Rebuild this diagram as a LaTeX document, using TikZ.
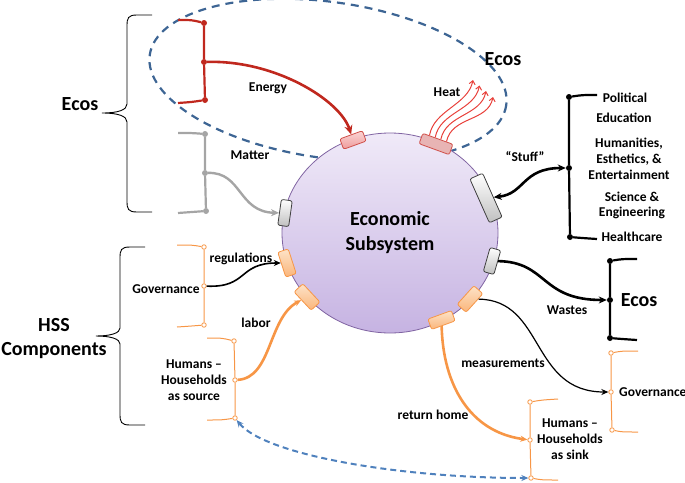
\documentclass[tikz,border=0pt]{standalone}
\usepackage{fontspec}
\setmainfont{Carlito}
\usetikzlibrary{arrows.meta,shapes.geometric}
\definecolor{cred}{HTML}{C0281E}
\definecolor{heatred}{HTML}{E8403A}
\definecolor{cgray}{HTML}{A5A5A5}
\definecolor{cblue}{HTML}{3D6594}
\definecolor{dblue}{HTML}{4F81BD}
\definecolor{corange}{HTML}{F79646}
\definecolor{orlight}{HTML}{FDE3C8}
\definecolor{ordark}{HTML}{FAB57A}
\definecolor{cpurple}{HTML}{8064A2}
\definecolor{circtop}{HTML}{F0EAF8}
\definecolor{circbot}{HTML}{C6B3E2}
\definecolor{pinkl}{HTML}{FBD6D6}
\definecolor{pinkd}{HTML}{EE9A9A}
\definecolor{heatpink}{HTML}{E8B4B4}
\definecolor{crborder}{HTML}{D0504A}
\begin{document}
\begin{tikzpicture}[x=1pt,y=-1pt,
  lbl/.style={font=\bfseries\fontsize{13.5}{16}\selectfont, inner sep=0, align=center},
  big/.style={font=\bfseries\fontsize{20}{24}\selectfont, inner sep=0, align=center},
  fdot/.style={circle, fill=#1, inner sep=0, minimum size=6},
  odot/.style={circle, draw=corange, fill=white, line width=0.8, inner sep=0, minimum size=4.5},
  conn/.style={rectangle, rounded corners=2, inner sep=0, line width=0.8, minimum height=11},
  orconn/.style={conn, draw=corange, top color=orlight, bottom color=ordark},
  grconn/.style={conn, draw=black!75, top color=white, bottom color=black!25},
  brc/.style={line width=0.9, black},
  tip/.style={-{Stealth[length=8pt,width=7pt]}},
  stip/.style={-{Stealth[length=7pt,width=6pt]}},
]
\useasboundingbox (0,0) rectangle (685,482);

% dashed ecosystem ellipse
\draw[cblue, line width=2.2, dash pattern=on 8pt off 6pt, rotate around={-8:(328,80)}] (328,80) ellipse [x radius=180, y radius=78];

% economic subsystem
\node[ellipse, draw=cpurple, line width=0.8, minimum width=216, minimum height=200, top color=circtop, bottom color=circbot, inner sep=0, align=center, font=\bfseries\fontsize{20}{25}\selectfont] (econ) at (390,233) {Economic\\Subsystem};

% connectors
\node[conn, minimum width=24, draw=crborder, top color=pinkl, bottom color=pinkd, rotate=20] (cE) at (353,140) {};
\node[conn, minimum width=32, draw=crborder, fill=heatpink, rotate=-20] (cH) at (436,144) {};
\node[grconn, minimum width=26, rotate=82] (cM) at (285,213) {};
\node[grconn, minimum width=48, minimum height=14, rotate=114] (cS) at (486,198) {};
\node[grconn, minimum width=25, rotate=74] (cW) at (492,261) {};
\node[orconn, minimum width=26, rotate=108] (cRg) at (287,263) {};
\node[orconn, minimum width=25, minimum height=12, rotate=-47] (cL) at (307,297) {};
\node[orconn, minimum width=25, minimum height=12, rotate=48] (cMs) at (470,299) {};
\node[orconn, minimum width=25, rotate=20] (cR) at (441.5,320) {};

% dots
\node[fdot=cred] (rT) at (204,23) {};
\node[fdot=cred] (rE) at (204,62) {};
\node[fdot=cred] (rB) at (205,100) {};
\node[fdot=cgray] (gT) at (205,134) {};
\node[fdot=cgray] (gM) at (205,173) {};
\node[fdot=cgray] (gB) at (206,211) {};
\node[fdot=black] (sT) at (569,97) {};
\node[fdot=black] (sM) at (569,168) {};
\node[fdot=black] (sB) at (570,237) {};
\node[fdot=black] (wT) at (610,261) {};
\node[fdot=black] (wM) at (610,300) {};
\node[fdot=black] (wB) at (610,338) {};
\node[odot] (oT1) at (204,247) {};
\node[odot] (oM1) at (204,286) {};
\node[odot] (oB1) at (204,325) {};
\node[odot] (oT2) at (234,341) {};
\node[odot] (oM2) at (235,380) {};
\node[odot] (oB2) at (235,418) {};
\node[odot] (oT3) at (611,353) {};
\node[odot] (oM3) at (611,392) {};
\node[odot] (oB3) at (612,430) {};
\node[odot] (oT4) at (530,402) {};
\node[odot] (oM4) at (530,440) {};
\node[odot] (oB4) at (531,478) {};

% braces
\draw[brc] (152,15) -- (137,15) .. controls (128,15) and (127,18) .. (127,26) -- (127,104) .. controls (127,110) and (118,113) .. (102,113) .. controls (118,113) and (127,116) .. (127,122) -- (127,201) .. controls (127,209) and (128,212) .. (137,212) -- (152,212);
\draw[brc] (145,247) -- (130,247) .. controls (121,247) and (120,250) .. (120,258) -- (120,328) .. controls (120,333) and (111,336) .. (96,336) .. controls (111,336) and (120,339) .. (120,344) -- (120,414) .. controls (120,422) and (121,425) .. (130,425) -- (145,425);

% brackets
\draw[cred, line width=2.2] (178,20) .. controls (192,20) .. (rT) -- (rE) -- (rB) .. controls (192,102) .. (178,103);
\draw[cgray, line width=2.2] (178,133) .. controls (192,133) .. (gT) -- (gM) -- (gB) .. controls (192,212) .. (178,213);
\draw[black, line width=2.2] (597,95) .. controls (582,95) .. (sT) -- (sM) -- (sB) .. controls (582,238) .. (597,239);
\draw[black, line width=2.2] (637,259) .. controls (622,259) .. (wT) -- (wM) -- (wB) .. controls (622,339) .. (637,340);
\draw[corange, line width=1] (177,245) .. controls (192,245) .. (oT1) -- (oM1) -- (oB1) .. controls (192,326) .. (177,327);
\draw[corange, line width=1] (207,338) .. controls (222,338) .. (oT2) -- (oM2) -- (oB2) .. controls (222,420) .. (207,420);
\draw[corange, line width=1] (638,351) .. controls (622,351) .. (oT3) -- (oM3) -- (oB3) .. controls (622,432) .. (638,432);
\draw[corange, line width=1] (558,399) .. controls (542,400) .. (oT4) -- (oM4) -- (oB4) .. controls (542,480) .. (558,480);

% flows
\draw[cred, line width=2.6, -{Stealth[length=9pt,width=8pt]}] (rE) .. controls (275,60) and (340,100) .. (cE);
\foreach \sx/\sy/\ax/\ay/\bx/\by/\ex/\ey in {429.5/135.3/434/110/468/105/473/80, 435.2/137.4/440/112/474.5/110.5/479.5/85.5, 440.8/139.4/446/114/481/116/486/91, 446.5/141.5/452/116/488/122/493/97}
  \draw[heatred, line width=1, -{Straight Barb[length=3.5pt,width=6pt]}] (\sx,\sy) .. controls (\ax,\ay) and (\bx,\by) .. (\ex,\ey);
\draw[cgray, line width=2.4, tip] (gM) .. controls (242,172) and (238,212) .. (cM);
\draw[black, line width=2.6, {Stealth[length=8pt,width=7pt]}-{Stealth[length=8pt,width=7pt]}] (cS) .. controls (525,194) and (522,168) .. (sM);
\draw[black, line width=2.6, tip] (cW) .. controls (548,262) and (540,300) .. (wM);
\draw[black, line width=1.6, stip] (oM1) .. controls (248,288) and (238,263) .. (cRg);
\draw[corange, line width=2.6, stip] (oM2) .. controls (272,378) and (268,318) .. (cL);
\draw[black, line width=1.2, stip] (cMs) .. controls (545,300) and (530,392) .. (oM3);
\draw[corange, line width=2.6, stip] (cR) .. controls (443,385) and (470,432) .. (oM4);
\draw[dblue, line width=2, dash pattern=on 6pt off 4pt, {Stealth[length=7pt,width=6pt]}-{Stealth[length=7pt,width=6pt]}] (oB2) .. controls (265,455) and (400,478) .. (oB4);

% texts
\node[big] (ecosL) at (80,104) {Ecos};
\node[big] (ecosT) at (503,59) {Ecos};
\node[big] (ecosB) at (639,300) {Ecos};
\node[big] (hss) at (54,339) {HSS\\Components};
\node[lbl] (lEn) at (268,88) {Energy};
\node[lbl] (lMa) at (250,155) {Matter};
\node[lbl] (lHe) at (447,92) {Heat};
\node[lbl] (lSt) at (525,157) {“Stuff”};
\node[lbl] (lRg) at (241,259) {regulations};
\node[lbl] (lGv1) at (166,289) {Governance};
\node[lbl] (lLa) at (256,323) {labor};
\node[lbl] (lSrc) at (194,380) {Humans –\\Households\\as source};
\node[lbl] (lWa) at (567,310) {Wastes};
\node[lbl] (lMe) at (503,363) {measurements};
\node[lbl, anchor=west] (lGv2) at (619,392) {Governance};
\node[lbl] (lRe) at (433,415) {return home};
\node[lbl] (lSnk) at (570,439) {Humans –\\Households\\as sink};
\node[lbl] (pol) at (625,98) {Political};
\node[lbl] (edu) at (624,118) {Education};
\node[lbl] (hum) at (629,159) {Humanities,\\Esthetics, \&\\Entertainment};
\node[lbl, font=\bfseries\fontsize{13.5}{15}\selectfont] (sci) at (632,205.5) {Science \&\\Engineering};
\node[lbl] (hea) at (632,237) {Healthcare};
\end{tikzpicture}
\end{document}
